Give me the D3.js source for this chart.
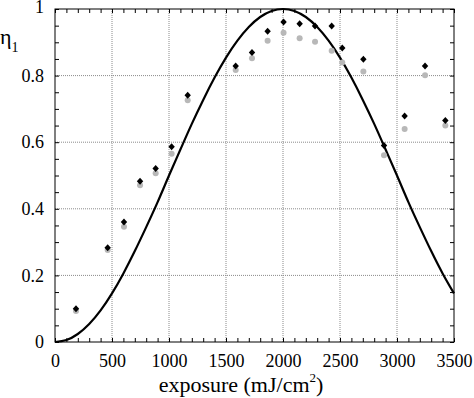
<!DOCTYPE html>
<html lang="en">
<head>
  <meta charset="UTF-8">
  <title>eta1 vs exposure</title>
  <style>
    body { margin: 0; background: #fff; }
    svg { display: block; }
  </style>
</head>
<body>
  <svg></svg>
  <script src="https://cdn.jsdelivr.net/npm/d3@7"></script>
  <script>
    var exposure = [184, 462, 605, 746, 883, 1023, 1164, 1585, 1728, 1865, 2005, 2146, 2281, 2427, 2520, 2705, 2886, 3067, 3246, 3424]
    var etaBlack = [0.100, 0.283, 0.360, 0.483, 0.521, 0.586, 0.741, 0.829, 0.869, 0.933, 0.961, 0.956, 0.949, 0.949, 0.883, 0.849, 0.590, 0.679, 0.829, 0.665]
    var etaGray  = [0.093, 0.276, 0.346, 0.471, 0.507, 0.565, 0.726, 0.817, 0.852, 0.905, 0.929, 0.912, 0.902, 0.875, 0.839, 0.812, 0.561, 0.640, 0.801, 0.650]

    var curveX = [0, 100, 200, 300, 400, 500, 600, 700, 800, 900, 1000, 1100, 1200, 1300, 1400, 1500, 1600, 1700, 1800, 1900,
                  2000, 2100, 2200, 2300, 2400, 2500, 2600, 2700, 2800, 2900, 3000, 3100, 3200, 3300, 3400, 3500]
    var curveY = [0, 0.006, 0.024, 0.054, 0.095, 0.146, 0.206, 0.273, 0.345, 0.42, 0.5, 0.578, 0.655, 0.727, 0.794, 0.854, 0.905, 0.946, 0.976, 0.994,
                  1.0, 0.994, 0.976, 0.946, 0.905, 0.854, 0.794, 0.727, 0.655, 0.578, 0.5, 0.42, 0.345, 0.273, 0.206, 0.146]

    var xTicks = [0, 500, 1000, 1500, 2000, 2500, 3000, 3500]
    var xTickLabels = ["0", "500", "1000", "1500", "2000", "2500", "3000", "3500"]
    var yTicks = [0, 0.2, 0.4, 0.6, 0.8, 1]
    var yTickLabels = ["0", "0.2", "0.4", "0.6", "0.8", "1"]

    var width = 474
    var height = 398
    var pLeft = 55, pRight = 454, pTop = 9, pBottom = 342
    var serif = "'Liberation Serif'"

    var x = d3.scaleLinear().domain([0, 3500]).range([pLeft, pRight])
    var y = d3.scaleLinear().domain([0, 1]).range([pBottom, pTop])

    var svg = d3.select("svg")
      .attr("width", width)
      .attr("height", height)

    // dotted grid
    var grid = svg.append("g")
    grid.selectAll("line.gx")
      .data(xTicks.slice(1, -1))
      .join("line")
      .attr("class", "gx")
      .attr("x1", d => x(d)).attr("x2", d => x(d))
      .attr("y1", pTop).attr("y2", pBottom)
    grid.selectAll("line.gy")
      .data(yTicks.slice(1, -1))
      .join("line")
      .attr("class", "gy")
      .attr("x1", pLeft).attr("x2", pRight)
      .attr("y1", d => y(d)).attr("y2", d => y(d))
    grid.selectAll("line")
      .attr("stroke", "#8a8a8a")
      .attr("stroke-width", 1)
      .attr("stroke-dasharray", "1,1")

    // inside ticks, all four sides
    var xMinor = d3.range(0, 3501, 100)
    var yMinor = d3.range(0, 1.0001, 0.05)
    function tickAxis(axis, scale, vals, size, tr) {
      svg.append("g")
        .attr("transform", tr)
        .call(axis(scale).tickValues(vals).tickSize(size).tickFormat(""))
        .call(g => g.select(".domain").remove())
        .call(g => g.selectAll("line").attr("stroke", "#000"))
    }
    tickAxis(d3.axisBottom, x, xMinor, -4, `translate(0,${pBottom})`)
    tickAxis(d3.axisTop, x, xMinor, -4, `translate(0,${pTop})`)
    tickAxis(d3.axisLeft, y, yMinor, -4, `translate(${pLeft},0)`)
    tickAxis(d3.axisRight, y, yMinor, -4, `translate(${pRight},0)`)

    // tick labels
    var xAxis = svg.append("g")
      .attr("transform", `translate(0,${pBottom})`)
      .call(d3.axisBottom(x).tickValues(xTicks).tickSize(0).tickPadding(12)
        .tickFormat((d, i) => xTickLabels[i]))
    xAxis.select(".domain").remove()
    xAxis.selectAll("text")
      .style("font-family", serif)
      .style("font-size", "18px")
      .attr("fill", "#000")

    var yAxis = svg.append("g")
      .attr("transform", `translate(${pLeft},0)`)
      .call(d3.axisLeft(y).tickValues(yTicks).tickSize(0).tickPadding(11)
        .tickFormat((d, i) => yTickLabels[i]))
    yAxis.select(".domain").remove()
    yAxis.selectAll("text")
      .style("font-family", serif)
      .style("font-size", "18px")
      .attr("fill", "#000")
    yAxis.selectAll("text").filter((d, i) => i === yTicks.length - 1).attr("dy", "0.22em")

    // theory curve
    svg.append("path")
      .datum(curveX.map((d, i) => [d, curveY[i]]))
      .attr("fill", "none")
      .attr("stroke", "#000")
      .attr("stroke-width", 2.2)
      .attr("d", d3.line().x(d => x(d[0])).y(d => y(d[1])).curve(d3.curveNatural))

    // gray circles
    svg.append("g")
      .selectAll("circle")
      .data(exposure.map((d, i) => [d, etaGray[i]]))
      .join("circle")
      .attr("cx", d => x(d[0]))
      .attr("cy", d => y(d[1]))
      .attr("r", 3)
      .attr("fill", "#b8b8b8")

    // black diamonds
    svg.append("g")
      .selectAll("path")
      .data(exposure.map((d, i) => [d, etaBlack[i]]))
      .join("path")
      .attr("transform", d => `translate(${x(d[0])},${y(d[1])})`)
      .attr("d", "M0,-3.5L3.2,0L0,3.5L-3.2,0Z")
      .attr("fill", "#000")

    // frame
    svg.append("rect")
      .attr("x", pLeft).attr("y", pTop)
      .attr("width", pRight - pLeft).attr("height", pBottom - pTop)
      .attr("fill", "none")
      .attr("stroke", "#000")
      .attr("stroke-width", 1)

    // axis titles
    var xt = svg.append("text")
      .attr("x", 241).attr("y", 392)
      .attr("text-anchor", "middle")
      .style("font-family", serif)
      .style("font-size", "22px")
    xt.append("tspan").text("exposure (mJ/cm")
    xt.append("tspan").style("font-size", "13px").attr("dy", -10).text("2")
    xt.append("tspan").attr("dy", 10).text(")")

    var yt = svg.append("text")
      .attr("x", 0).attr("y", 44)
      .style("font-family", serif)
      .style("font-size", "22px")
    yt.append("tspan").text("η")
    yt.append("tspan").style("font-size", "14px").attr("dy", 8).text("1")
  </script>
</body>
</html>
